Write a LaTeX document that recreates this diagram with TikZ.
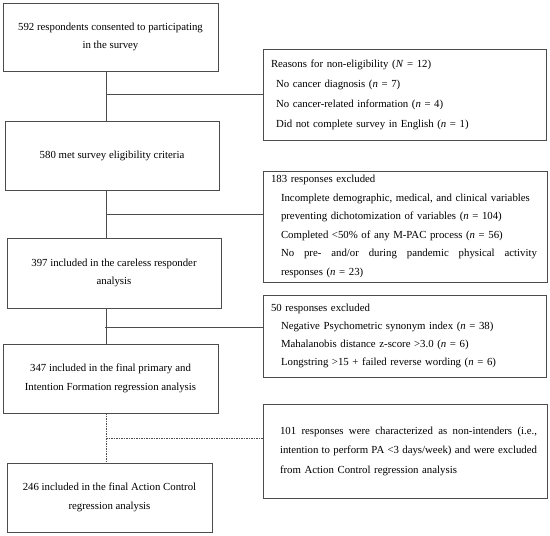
\documentclass[tikz,border=0pt]{standalone}
\usepackage{fontspec}
\setmainfont{Liberation Serif}
\begin{document}
\begin{tikzpicture}[x=1pt,y=-1pt,
  box/.style={draw=black!70, line width=0.8pt, inner sep=0pt, align=center,
    font=\fontsize{10.8}{18.5}\selectfont},
  side/.style={draw=black!70, line width=0.8pt, inner sep=0pt, align=left,
    font=\fontsize{10.8}{20}\selectfont},
  link/.style={draw=black!70, line width=0.8pt},
  dlink/.style={draw=black!70, line width=0.8pt, dash pattern=on 1.5pt off 1pt}]
\useasboundingbox (0,0) rectangle (550,536);
% main column
\node[box, minimum width=215pt, minimum height=68pt] (b1) at (110.5,37)
  {592 respondents consented to participating\\in the survey};
\node[box, minimum width=214pt, minimum height=69pt] (b2) at (112,155.5)
  {580 met survey eligibility criteria};
\node[box, minimum width=214pt, minimum height=70pt] (b3) at (114,273)
  {397 included in the careless responder\\analysis};
\node[box, minimum width=215pt, minimum height=69pt] (b4) at (110.5,378.5)
  {347 included in the final primary and\\Intention Formation regression analysis};
\node[box, minimum width=205pt, minimum height=69pt] (b5) at (109.5,497.5)
  {246 included in the final Action Control\\regression analysis};
% side boxes
\node[side, minimum width=283pt, minimum height=91pt, text width=267pt] (r1) at (404.5,94.5)
  {Reasons for non-eligibility (\textit{N} = 12)\\
   \hspace*{5pt}No cancer diagnosis (\textit{n} = 7)\\
   \hspace*{5pt}No cancer-related information (\textit{n} = 4)\\
   \hspace*{5pt}Did not complete survey in English (\textit{n} = 1)};
\node[side, minimum width=284pt, minimum height=111pt, text width=268pt,
      font=\fontsize{10.8}{18.6}\selectfont] (r2) at (405,226.5)
  {183 responses excluded\\
   \hspace*{10pt}Incomplete demographic, medical, and clinical variables\\
   \hspace*{10pt}preventing dichotomization of variables (\textit{n} = 104)\\
   \hspace*{10pt}Completed <50\% of any M-PAC process (\textit{n} = 56)\\
   \hspace*{10pt}\hbox to 256pt{No\hfill pre-\hfill and/or\hfill during\hfill pandemic\hfill physical\hfill activity}\\
   \hspace*{10pt}responses (\textit{n} = 23)};
\node[side, minimum width=283pt, minimum height=82pt, text width=267pt,
      font=\fontsize{10.8}{18}\selectfont] (r3) at (404.5,336)
  {50 responses excluded\\
   \hspace*{10pt}Negative Psychometric synonym index (\textit{n} = 38)\\
   \hspace*{10pt}Mahalanobis distance z-score >3.0 (\textit{n} = 6)\\
   \hspace*{10pt}Longstring >15 + failed reverse wording (\textit{n} = 6)};
\node[side, minimum width=284pt, minimum height=94pt, text width=264pt,
      font=\fontsize{10.8}{19.5}\selectfont] (r4) at (405,451)
  {\hspace*{7pt}\hbox to 257pt{101\hfill responses\hfill were\hfill characterized\hfill as\hfill non-intenders\hfill (i.e.,}\\
   \hspace*{7pt}\hbox to 257pt{intention\hfill to\hfill perform\hfill PA\hfill <3\hfill days/week)\hfill and\hfill were\hfill excluded}\\
   \hspace*{7pt}from Action Control regression analysis};
% spine and junctions
\coordinate (sp) at (106,0);
\coordinate (j1) at (106,94);
\coordinate (j2) at (106,214);
\coordinate (j3) at (106,327);
\coordinate (j4) at (106,438);
\draw[link] (b1.south -| sp) -- (b2.north -| sp);
\draw[link] (b2.south -| sp) -- (b3.north -| sp);
\draw[link] (b3.south -| sp) -- (b4.north -| sp);
\draw[dlink] (b4.south -| sp) -- (b5.north -| sp);
\draw[link] (j1) -- (j1 -| r1.west);
\draw[link] (j2) -- (j2 -| r2.west);
\draw[link] ([xshift=-1pt]j3) -- (j3 -| r3.west);
\draw[dlink] (j4) -- (j4 -| r4.west);
\end{tikzpicture}
\end{document}
